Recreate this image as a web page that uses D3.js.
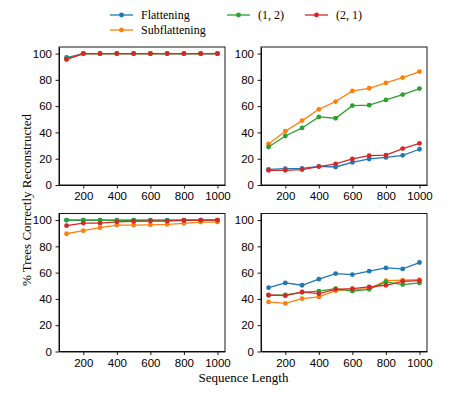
<!DOCTYPE html>
<html>
<head>
<meta charset="utf-8">
<script src="https://cdn.jsdelivr.net/npm/d3@7"></script>
<style>
  body { margin: 0; background: #fff; }
  svg { font-family: "Liberation Serif", "DejaVu Serif", serif; }
  .axis path, .axis line { stroke: #000; stroke-width: 0.9; }
  .axis text { font-size: 11.5px; fill: #000; }
</style>
</head>
<body>
<div class="container"></div>
<script>
const lengths = [100, 200, 300, 400, 500, 600, 700, 800, 900, 1000];
const seriesNames = ['Flattening', 'Subflattening', '(1, 2)', '(2, 1)'];
const colors = ['#1f77b4', '#ff7f0e', '#2ca02c', '#d62728'];
const yTicks = [0, 20, 40, 60, 80, 100];
const xTicks = [200, 400, 600, 800, 1000];

// top left
const tlFlat = [97, 100, 100, 100, 100, 100, 100, 100, 100, 100];
const tlSub = [96, 100, 100, 100, 100, 100, 100, 100, 100, 100];
const tl12 = [96, 100, 100, 100, 100, 100, 100, 100, 100, 100];
const tl21 = [95.5, 100, 100, 100, 100, 100, 100, 100, 100, 100];

// top right
const trFlat = [11.9, 12.4, 12.7, 14.2, 13.7, 17.3, 19.8, 21, 22.6, 27.2];
const trSub = [31.2, 40.9, 49, 57.6, 63.5, 71.6, 73.6, 77.7, 81.7, 86.3];
const tr12 = [28.9, 37.3, 43.4, 51.8, 50.8, 60.4, 60.7, 64.7, 68.8, 73.4];
const tr21 = [11.2, 11.2, 11.7, 14, 16, 19.8, 22.3, 22.8, 27.7, 31.7];

// bottom left
const blFlat = [100, 100, 100, 100, 100, 100, 100, 100, 100, 100];
const blSub = [89.6, 91.9, 94.2, 96.2, 96.2, 96.4, 96.7, 97.5, 98.5, 98.5];
const bl12 = [100, 100, 100, 99.8, 99.8, 99.8, 99.8, 100, 100, 100];
const bl21 = [95.7, 97.7, 97.7, 98.7, 99, 99.2, 99.2, 99.7, 100, 100];

// bottom right
const brFlat = [48.6, 52.2, 50.4, 55, 59.3, 58.5, 61.1, 63.6, 62.8, 67.7];
const brSub = [37.7, 36.6, 40.2, 41.5, 46.3, 47.1, 47.8, 53.9, 54.2, 54.7];
const br12 = [42.7, 43, 45, 46, 47.8, 46, 47.3, 52.9, 50.9, 52.2];
const br21 = [43, 42.5, 45.3, 44, 47.3, 47.8, 49.1, 50.4, 53.4, 53.9];

const panels = [
  { col: 0, row: 0, series: [tlFlat, tlSub, tl12, tl21] },
  { col: 1, row: 0, series: [trFlat, trSub, tr12, tr21] },
  { col: 0, row: 1, series: [blFlat, blSub, bl12, bl21] },
  { col: 1, row: 1, series: [brFlat, brSub, br12, br21] },
];

const width = 474;
const height = 395;
const lefts = [59, 261];
const tops = [47, 213.5];
const pw = 166;
const ph = 138;

const xScale = d3.scaleLinear().domain([55, 1045]).range([0, pw]);
const yScale = d3.scaleLinear().domain([0, 105]).range([ph, 0]);

const svg = d3.select('.container')
  .append('svg')
  .attr('width', width)
  .attr('height', height);

panels.forEach(p => {
  const g = svg.append('g')
    .attr('transform', `translate(${lefts[p.col]}, ${tops[p.row]})`);

  g.append('g')
    .attr('class', 'axis')
    .attr('transform', `translate(0, ${ph})`)
    .call(d3.axisBottom(xScale).tickValues(xTicks).tickFormat(d3.format('d'))
      .tickSizeInner(3.5).tickSizeOuter(0).tickPadding(3.5));

  g.append('g')
    .attr('class', 'axis')
    .call(d3.axisLeft(yScale).tickValues(yTicks).tickFormat(d3.format('d'))
      .tickSizeInner(3.5).tickSizeOuter(0).tickPadding(3.5));

  // frame
  g.append('rect')
    .attr('width', pw)
    .attr('height', ph)
    .attr('fill', 'none')
    .attr('stroke', '#000')
    .attr('stroke-width', 0.9);

  const line = d3.line().x((d, i) => xScale(lengths[i])).y(d => yScale(d));

  p.series.forEach((vals, k) => {
    g.append('path')
      .attr('d', line(vals))
      .attr('fill', 'none')
      .attr('stroke', colors[k])
      .attr('stroke-width', 1.3);
    g.append('g')
      .selectAll('circle')
      .data(vals)
      .enter()
      .append('circle')
      .attr('cx', (d, i) => xScale(lengths[i]))
      .attr('cy', d => yScale(d))
      .attr('r', 2.4)
      .attr('fill', colors[k]);
  });
});

// axis titles
svg.append('text')
  .attr('x', 243.5)
  .attr('y', 382)
  .attr('text-anchor', 'middle')
  .attr('font-size', 13)
  .text('Sequence Length');

svg.append('text')
  .attr('transform', 'translate(31, 200) rotate(-90)')
  .attr('text-anchor', 'middle')
  .attr('font-size', 13)
  .text('% Trees Correctly Reconstructed');

// legend
const legendPos = [
  { x: 110, y: 15 },
  { x: 110, y: 30 },
  { x: 227, y: 15 },
  { x: 305, y: 15 },
];
seriesNames.forEach((name, k) => {
  const lg = svg.append('g')
    .attr('transform', `translate(${legendPos[k].x}, ${legendPos[k].y})`);
  lg.append('line')
    .attr('x1', 0).attr('x2', 23)
    .attr('stroke', colors[k])
    .attr('stroke-width', 1.3);
  lg.append('circle')
    .attr('cx', 11.5)
    .attr('r', 2.4)
    .attr('fill', colors[k]);
  lg.append('text')
    .attr('x', 31)
    .attr('y', 4)
    .attr('font-size', 12)
    .text(name);
});
</script>
</body>
</html>
